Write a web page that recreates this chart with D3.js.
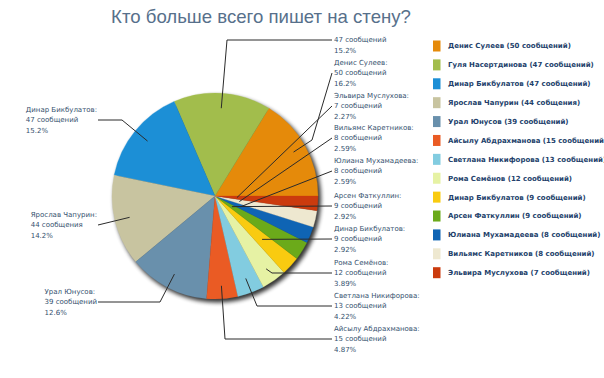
<!DOCTYPE html>
<html>
<head>
<meta charset="utf-8">
<script src="https://cdn.jsdelivr.net/npm/d3@7"></script>
<style>
  body { margin: 0; background: #fff; }
  svg { display: block; }
</style>
</head>
<body>
<div id="chart"></div>
<script>
// data
var names = ["Денис Сулеев", "Гуля Насертдинова", "Динар Бикбулатов", "Ярослав Чапурин",
  "Урал Юнусов", "Айсылу Абдрахманова", "Светлана Никифорова", "Рома Семёнов",
  "Динар Бикбулатов", "Арсен Фаткуллин", "Юлиана Мухамадеева", "Вильямс Каретников",
  "Эльвира Муслухова"];
var values = [50, 47, 47, 44, 39, 15, 13, 12, 9, 9, 8, 8, 7];
var pieWords = ["сообщений", "сообщений", "сообщений", "сообщения", "сообщений", "сообщений",
  "сообщений", "сообщений", "сообщений", "сообщений", "сообщений", "сообщений", "сообщений"];
var legendWords = ["сообщений", "сообщений", "сообщений", "собщения", "сообщений", "сообщений",
  "сообщений", "сообщений", "сообщений", "сообщений", "сообщений", "сообщений", "сообщений"];
var colors = ["#E58A0A", "#A2BD4C", "#1C8FD6", "#C8C4A0", "#6990AC", "#EA5B24", "#82CCE0",
  "#E6F2A4", "#F9CB10", "#6BAA1A", "#0F64B4", "#EEE8D0", "#CB3B0E"];
var title = "Кто больше всего пишет на стену?";

// label layout (annotation placement only)
var labelSide = ["R", "R", "L", "L", "L", "R", "R", "R", "R", "R", "R", "R", "R"];
var labelY = [73, 40, 120, 225, 302, 339, 306, 273, 239, 206, 171, 138, 106];
var anchorR = [90, 88, 87, 88, 88, 90, 88, 89, 64, 20, 28, 25, 22];
var elbows = [[312, 140], [227, 40], [122, 120], null, [160, 302], [225, 339], [257, 306],
  [272, 273], null, null, null, null, null];
var showName = [true, false, true, true, true, true, true, true, true, true, true, true, true];

var w = 604, h = 378;
var cx = 215, cy = 196, radius = 103;

var svg = d3.select("#chart").append("svg")
  .attr("width", w)
  .attr("height", h);

var defs = svg.append("defs");
var blur = defs.append("filter").attr("id", "shadow")
  .attr("x", "-20%").attr("y", "-20%").attr("width", "140%").attr("height", "140%");
blur.append("feGaussianBlur").attr("stdDeviation", 2.2);

//Title
svg.append("text")
  .attr("x", 261)
  .attr("y", 23)
  .attr("text-anchor", "middle")
  .attr("font-family", "'Liberation Sans', Arial, sans-serif")
  .attr("font-size", 18.6)
  .attr("fill", "#57708B")
  .text(title);

var total = d3.sum(values);
var data = values.map(function(v, i) { return { i: i, value: v }; });

// slices go counter-clockwise from 3 o'clock
var pie = d3.pie()
  .value(function(d) { return d.value; })
  .sort(null)
  .startAngle(Math.PI / 2)
  .endAngle(Math.PI / 2 - 2 * Math.PI);

var arcs = pie(data);
var arc = d3.arc().innerRadius(0).outerRadius(radius);

var g = svg.append("g").attr("transform", "translate(" + cx + "," + cy + ")");

// shadow under the pie
g.append("circle")
  .attr("cx", 2.5)
  .attr("cy", 3)
  .attr("r", radius + 0.5)
  .attr("fill", "#000")
  .attr("opacity", 0.8)
  .attr("filter", "url(#shadow)");

g.selectAll("path.slice")
  .data(arcs)
  .enter()
  .append("path")
  .attr("class", "slice")
  .attr("d", arc)
  .attr("fill", function(d) { return colors[d.data.i]; })
  .attr("stroke", function(d) { return colors[d.data.i]; })
  .attr("stroke-width", 0.3);

function pct(v) {
  var p = v / total * 100;
  var k = p >= 10 ? 10 : 100;
  return (Math.floor(p * k + 1e-9) / k).toString() + "%";
}

// leader lines
var labels = svg.append("g");
arcs.forEach(function(d) {
  var i = d.data.i;
  var a = d3.arc().innerRadius(anchorR[i]).outerRadius(anchorR[i]).centroid(d);
  var pts = [[cx + a[0], cy + a[1]]];
  if (elbows[i]) pts.push(elbows[i]);
  var endX = labelSide[i] == "R" ? 332 : 98;
  pts.push([endX, labelY[i]]);

  labels.append("path")
    .attr("d", d3.line()(pts))
    .attr("fill", "none")
    .attr("stroke", "#2b2b2b")
    .attr("stroke-width", 1);

  var lines = [];
  if (showName[i]) lines.push({ t: names[i] + ":", dy: -10.7 });
  lines.push({ t: values[i] + " " + pieWords[i], dy: 0 });
  lines.push({ t: pct(values[i]), dy: 10.7 });

  var block = labels.append("g");
  var texts = block.selectAll("text")
    .data(lines)
    .enter()
    .append("text")
    .attr("y", function(l) { return labelY[i] + l.dy; })
    .attr("dy", "0.35em")
    .attr("font-family", "'DejaVu Sans', Verdana, sans-serif")
    .attr("font-size", 7)
    .attr("fill", "#34506E")
    .text(function(l) { return l.t; });

  if (labelSide[i] == "R") {
    texts.attr("x", 334);
  } else {
    var maxW = 0;
    texts.each(function() { maxW = Math.max(maxW, this.getComputedTextLength()); });
    texts.attr("x", 97 - maxW);
  }
});

// legend
var legend = svg.append("g");
var ly = d3.scaleLinear().domain([0, names.length - 1]).range([46, 272.7]);

legend.selectAll("rect")
  .data(data)
  .enter()
  .append("rect")
  .attr("x", 433)
  .attr("y", function(d) { return ly(d.i) - 5.5; })
  .attr("width", 7.5)
  .attr("height", 11)
  .attr("fill", function(d) { return colors[d.i]; });

legend.selectAll("text")
  .data(data)
  .enter()
  .append("text")
  .attr("x", 448)
  .attr("y", function(d) { return ly(d.i); })
  .attr("dy", "0.35em")
  .attr("font-family", "'DejaVu Sans', Verdana, sans-serif")
  .attr("font-weight", "bold")
  .attr("font-size", 7)
  .attr("fill", "#233F6B")
  .text(function(d) { return names[d.i] + " (" + values[d.i] + " " + legendWords[d.i] + ")"; });
</script>
</body>
</html>
